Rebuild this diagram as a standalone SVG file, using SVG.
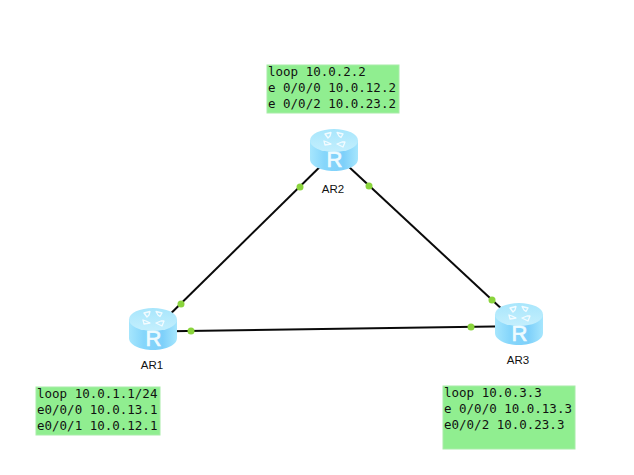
<svg xmlns="http://www.w3.org/2000/svg" width="634" height="475" viewBox="0 0 634 475">
<style>
.box{fill:#90ee90;stroke:#a8eca8;stroke-width:1}
.cfg{font-family:"DejaVu Sans Mono","Liberation Mono",monospace;font-size:12.5px;fill:#111}
.lab{font-family:"Liberation Sans",Arial,sans-serif;font-size:11.500px;fill:#111;text-anchor:middle}
.link{stroke:#0a0a0a;stroke-width:2;fill:none}
.dot{fill:#8ad43c}
</style>
<defs>
<linearGradient id="side" x1="0" x2="1" y1="0" y2="0">
<stop offset="0" stop-color="#a6e6fd"/><stop offset=".3" stop-color="#86d6fb"/><stop offset=".7" stop-color="#7ed0fa"/><stop offset="1" stop-color="#a6e6fd"/>
</linearGradient>
<linearGradient id="top" x1="0" x2="0" y1="0" y2="1">
<stop offset="0" stop-color="#a8e6fc"/><stop offset="1" stop-color="#c4effd"/>
</linearGradient>
<symbol id="router" width="48" height="42" viewBox="0 0 48 42" overflow="visible">
<path d="M0 11.500V30C0 36.800 10.700 42 24 42S48 36.800 48 30V11.500Z" fill="url(#side)"/>
<ellipse cx="24" cy="11.500" rx="24" ry="11.500" fill="url(#top)"/>
<g stroke="#f2fbff" stroke-width="1.300" fill="none" stroke-linejoin="round">
<path d="M21 3.500L15 5L18 9L20 7ZM27 3.500L33 5L31 8.500L29 7ZM21 15L15 16L14 12L17 13ZM27 15L33 18L35 13L32 13Z"/>
</g>
<text x="24.500" y="38" font-family="'Liberation Sans',Arial,sans-serif" font-size="22" fill="#eefbff" stroke="#eefbff" stroke-width=".7" text-anchor="middle">R</text>
</symbol>
</defs>
<g id="connectors">
<path class="link" d="M153 331L334 153"/>
<path class="link" d="M334 153L519 325"/>
<path class="link" d="M153 331.500L519 326"/>
<circle class="dot" cx="181" cy="304" r="3.500"/>
<circle class="dot" cx="300" cy="187" r="3.500"/>
<circle class="dot" cx="369" cy="186" r="3.500"/>
<circle class="dot" cx="492" cy="300" r="3.500"/>
<circle class="dot" cx="191" cy="331" r="3.500"/>
<circle class="dot" cx="471" cy="327" r="3.500"/>
</g>
<g id="AR2"><use href="#router" x="310" y="129"/><text class="lab" x="333" y="193">AR2</text></g>
<g id="AR1"><use href="#router" x="129" y="308"/><text class="lab" x="152" y="369">AR1</text></g>
<g id="AR3"><use href="#router" x="495" y="303"/><text class="lab" x="518" y="364">AR3</text></g>
<g id="cfg-AR2"><rect class="box" x="267" y="65" width="132" height="48"/>
<text class="cfg" x="268" y="76">loop 10.0.2.2</text><text class="cfg" x="268" y="92">e 0/0/0 10.0.12.2</text><text class="cfg" x="268" y="108">e 0/0/2 10.0.23.2</text></g>
<g id="cfg-AR1"><rect class="box" x="36" y="387" width="124" height="48"/>
<text class="cfg" x="37" y="398">loop 10.0.1.1/24</text><text class="cfg" x="37" y="414">e0/0/0 10.0.13.1</text><text class="cfg" x="37" y="430">e0/0/1 10.0.12.1</text></g>
<g id="cfg-AR3"><rect class="box" x="443" y="386" width="132" height="63"/>
<text class="cfg" x="444" y="397">loop 10.0.3.3</text><text class="cfg" x="444" y="413">e 0/0/0 10.0.13.3</text><text class="cfg" x="444" y="429">e0/0/2 10.0.23.3</text></g>
</svg>
